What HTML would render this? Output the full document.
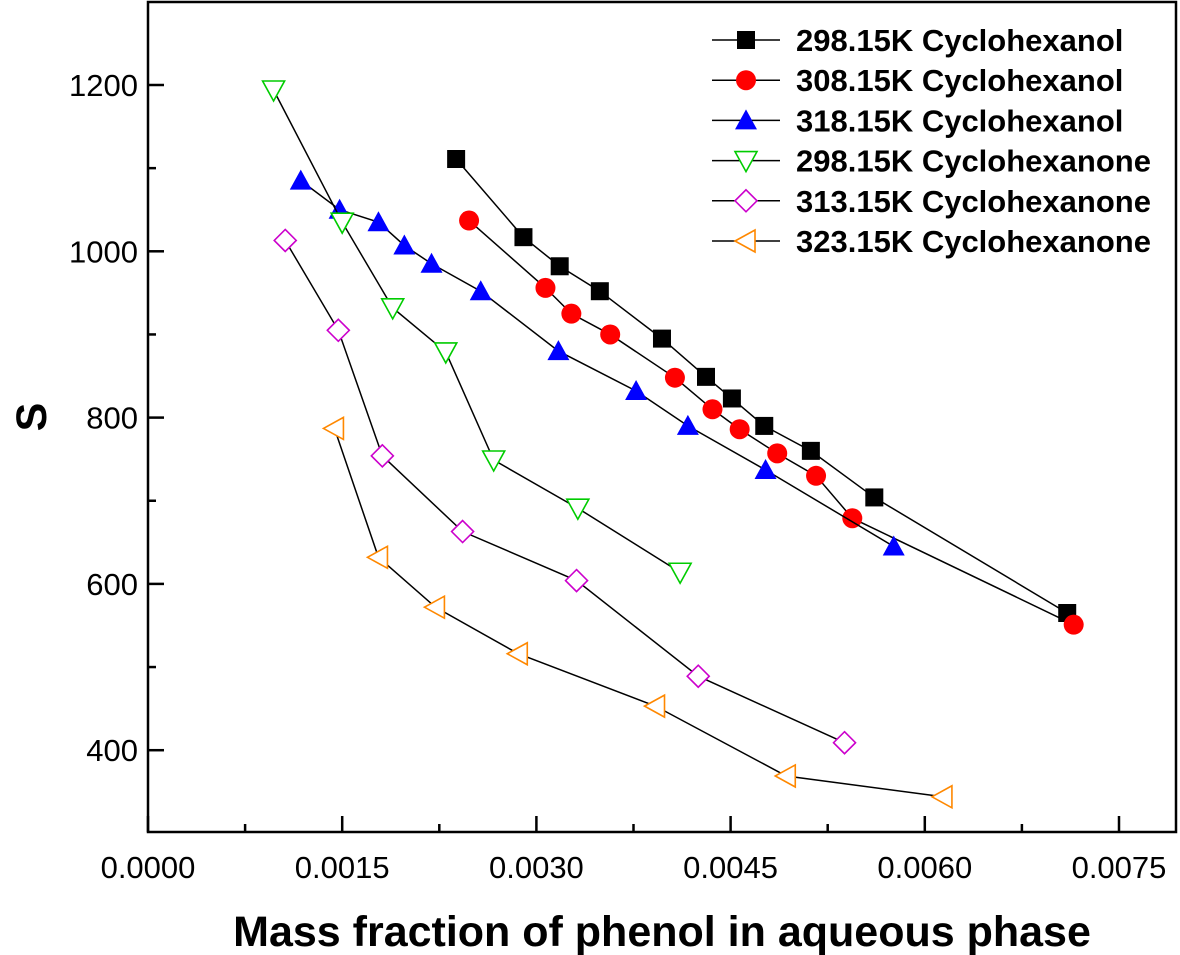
<!DOCTYPE html>
<html><head><meta charset="utf-8"><style>
html,body{margin:0;padding:0;background:#fff;}
svg{display:block;font-family:"Liberation Sans",Arial,sans-serif;}
</style></head><body>
<svg id="chart" width="1180" height="955" viewBox="0 0 1180 955" xmlns="http://www.w3.org/2000/svg">
<rect x="148" y="2" width="1028" height="830" fill="none" stroke="#000" stroke-width="2.5"/>
<g id="axes"></g>
<g id="series"></g>
<g id="legend"></g>
<text x="662" y="946" text-anchor="middle" font-size="43" font-weight="bold">Mass fraction of phenol in aqueous phase</text>
<text transform="translate(46,417) rotate(-90)" text-anchor="middle" font-size="43" font-weight="bold">S</text>
</svg>
<script>
const xTicks=[0,0.0015,0.003,0.0045,0.006,0.0075];
const xTickLabels=["0.0000","0.0015","0.0030","0.0045","0.0060","0.0075"];
const yTicks=[400,600,800,1000,1200];
const yTickLabels=["400","600","800","1000","1200"];
const seriesNames=["298.15K Cyclohexanol","308.15K Cyclohexanol","318.15K Cyclohexanol","298.15K Cyclohexanone","313.15K Cyclohexanone","323.15K Cyclohexanone"];
const s1x=[0.00238,0.00290,0.00318,0.00349,0.00397,0.00431,0.00451,0.00476,0.00512,0.00561,0.00710];
const s1y=[1111,1017,982,952,895,849,823,790,760,704,565];
const s2x=[0.00248,0.00307,0.00327,0.00357,0.00407,0.00436,0.00457,0.00486,0.00516,0.00544,0.00715];
const s2y=[1037,956,925,900,848,810,786,757,730,679,551];
const s3x=[0.00118,0.00148,0.00178,0.00198,0.00219,0.00257,0.00317,0.00377,0.00417,0.00477,0.00576];
const s3y=[1085,1050,1035,1007,985,952,880,832,790,737,645];
const s4x=[0.00097,0.00150,0.00189,0.00230,0.00267,0.00332,0.00411];
const s4y=[1194,1035,932,879,749,691,614];
const s5x=[0.00106,0.00147,0.00181,0.00243,0.00331,0.00425,0.00538];
const s5y=[1013,905,754,663,604,489,409];
const s6x=[0.00144,0.00178,0.00222,0.00286,0.00392,0.00493,0.00614];
const s6y=[787,632,572,516,453,369,344];

const NS="http://www.w3.org/2000/svg";
const X=v=>148+v/0.0015*194.2;
const Y=v=>85+(1200-v)*0.8315;
function mk(tag,attrs,parent){const e=document.createElementNS(NS,tag);for(const k in attrs)e.setAttribute(k,attrs[k]);parent.appendChild(e);return e;}
const axes=document.getElementById('axes');
xTicks.forEach((t,i)=>{
  const l=mk('line',{x1:X(t),x2:X(t),y1:832,y2:816,stroke:'#000','stroke-width':2.5},axes);
  
  
  const tx=mk('text',{x:X(t),y:878,'text-anchor':'middle','font-size':31},axes);
  tx.textContent=xTickLabels[i];
  
  
  if(i<xTicks.length-1){
    const m=mk('line',{x1:X(t+0.00075),x2:X(t+0.00075),y1:832,y2:824,stroke:'#000','stroke-width':2.5},axes);
    
    
  }
});
yTicks.forEach((t,i)=>{
  const l=mk('line',{x1:148,x2:164,y1:Y(t),y2:Y(t),stroke:'#000','stroke-width':2.5},axes);
  
  
  const tx=mk('text',{x:138,y:Y(t)+11,'text-anchor':'end','font-size':31},axes);
  tx.textContent=yTickLabels[i];
  
  
});
[500,700,900,1100].forEach(t=>{
  const m=mk('line',{x1:148,x2:156,y1:Y(t),y2:Y(t),stroke:'#000','stroke-width':2.5},axes);
  
  
});
function marker(kind,cx,cy,g){
  let e;
  if(kind==0) e=mk('rect',{x:cx-9,y:cy-9,width:18,height:18,fill:'#000'},g);
  else if(kind==1) e=mk('circle',{cx:cx,cy:cy,r:10,fill:'#f00'},g);
  else if(kind==2) e=mk('polygon',{points:`${cx},${cy-11} ${cx+11},${cy+9} ${cx-11},${cy+9}`,fill:'#00f'},g);
  else if(kind==3) e=mk('polygon',{points:`${cx-11},${cy-9} ${cx+11},${cy-9} ${cx},${cy+11}`,fill:'#fff',stroke:'#0c0','stroke-width':1.6},g);
  else if(kind==4) e=mk('polygon',{points:`${cx},${cy-11} ${cx+11},${cy} ${cx},${cy+11} ${cx-11},${cy}`,fill:'#fff',stroke:'#c0c','stroke-width':1.6},g);
  else e=mk('polygon',{points:`${cx-11},${cy} ${cx+9},${cy-11} ${cx+9},${cy+11}`,fill:'#fff',stroke:'#f80','stroke-width':1.6},g);
  return e;
}
const allX=[s1x,s2x,s3x,s4x,s5x,s6x],allY=[s1y,s2y,s3y,s4y,s5y,s6y];
const sg=document.getElementById('series');
allX.forEach((xs,k)=>{
  const g=mk('g',{},sg);
  
  
  const pts=xs.map((x,i)=>X(x)+','+Y(allY[k][i])).join(' ');
  const pl=mk('polyline',{points:pts,fill:'none',stroke:'#000','stroke-width':1.5},g);
  
  
  xs.forEach((x,i)=>{
    const m=marker(k,X(x),Y(allY[k][i]),g);
    
    
  });
});
const lg=document.getElementById('legend');
seriesNames.forEach((n,k)=>{
  const y=40+k*40.2;
  const g=mk('g',{},lg);
  
  
  mk('line',{x1:712,x2:780,y1:y,y2:y,stroke:'#000','stroke-width':1.5},g);
  marker(k,746,y,g);
  const t=mk('text',{x:796,y:y+11,'font-size':31,'font-weight':'bold'},g);
  t.textContent=n;
});
</script>
</body></html>
